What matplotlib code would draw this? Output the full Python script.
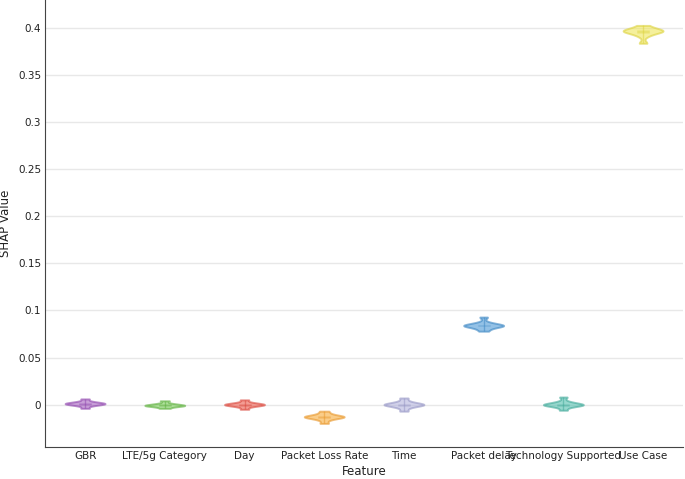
import numpy as np
import matplotlib.pyplot as plt

features = ['GBR', 'LTE/5g Category', 'Day', 'Packet Loss Rate', 'Time',
            'Packet delay', 'Technology Supported', 'Use Case']

# SHAP samples per feature
gbr = [-0.004, -0.001, 0.000, 0.001, 0.001, 0.001, 0.002, 0.003, 0.006]
lte = [-0.004, -0.002, -0.001, -0.001, -0.001, 0.000, 0.001, 0.004]
day = [-0.005, -0.002, -0.001, 0.000, 0.000, 0.000, 0.001, 0.002, 0.005]
plr = [-0.020, -0.016, -0.014, -0.013, -0.013, -0.013, -0.012, -0.010, -0.007]
time_ = [-0.007, -0.003, -0.001, 0.000, 0.000, 0.000, 0.001, 0.003, 0.007]
delay = [0.078, 0.081, 0.083, 0.084, 0.084, 0.084, 0.085, 0.087, 0.093]
tech = [-0.006, -0.002, -0.001, 0.000, 0.000, 0.000, 0.001, 0.003, 0.008]
usecase = [0.384, 0.392, 0.395, 0.397, 0.397, 0.397, 0.398, 0.400, 0.403]

colors = ['#a460bf', '#7bcc5a', '#ec5a4c', '#f7ad3a', '#b3b3dc',
          '#4b98d6', '#52bfae', '#efe65a']
edge_colors = ['#8e44ad', '#5aae3a', '#d9453a', '#e8962a', '#9494c4',
               '#3a85c2', '#3fa898', '#dcd23c']

values = [gbr, lte, day, plr, time_, delay, tech, usecase]
pos = np.arange(len(features))

fig, ax = plt.subplots(figsize=(6.85, 4.79), dpi=100)
ax.yaxis.grid(True, color='#e8e8e8', linewidth=1)
ax.set_axisbelow(True)

parts = ax.violinplot(values, positions=pos, widths=0.5, showextrema=False,
                      bw_method=0.45)
for body, c, ec in zip(parts['bodies'], colors, edge_colors):
    body.set_facecolor(c)
    body.set_alpha(0.6)
    body.set_edgecolor(ec)
    body.set_linewidth(1.4)

for i, v in enumerate(values):
    q1, med, q3 = np.percentile(v, [25, 50, 75])
    ax.vlines(pos[i], q1, q3, color=edge_colors[i], linewidth=9, alpha=0.45)
    ax.vlines(pos[i], min(v), max(v), color=edge_colors[i], linewidth=1, alpha=0.5)

ax.set_xticks(pos)
ax.set_xticklabels(features)
ax.set_xlim(-0.5, 7.5)
ax.set_ylim(-0.045, 0.43)
ax.set_yticks([0, 0.05, 0.1, 0.15, 0.2, 0.25, 0.3, 0.35, 0.4])
ax.set_yticklabels(['0', '0.05', '0.1', '0.15', '0.2', '0.25', '0.3', '0.35', '0.4'])
ax.tick_params(labelsize=7.5, length=0, pad=3, labelcolor='#222222')
ax.set_xlabel('Feature', fontsize=8.5, labelpad=3, color='#222222')
ax.set_ylabel('SHAP Value', fontsize=8.5, labelpad=4, color='#222222')
ax.spines['top'].set_visible(False)
ax.spines['right'].set_visible(False)
ax.spines['left'].set_color('#444444')
ax.spines['bottom'].set_color('#444444')

plt.subplots_adjust(left=0.066, right=0.997, top=1.0, bottom=0.067)
plt.savefig('out.png', dpi=100)
